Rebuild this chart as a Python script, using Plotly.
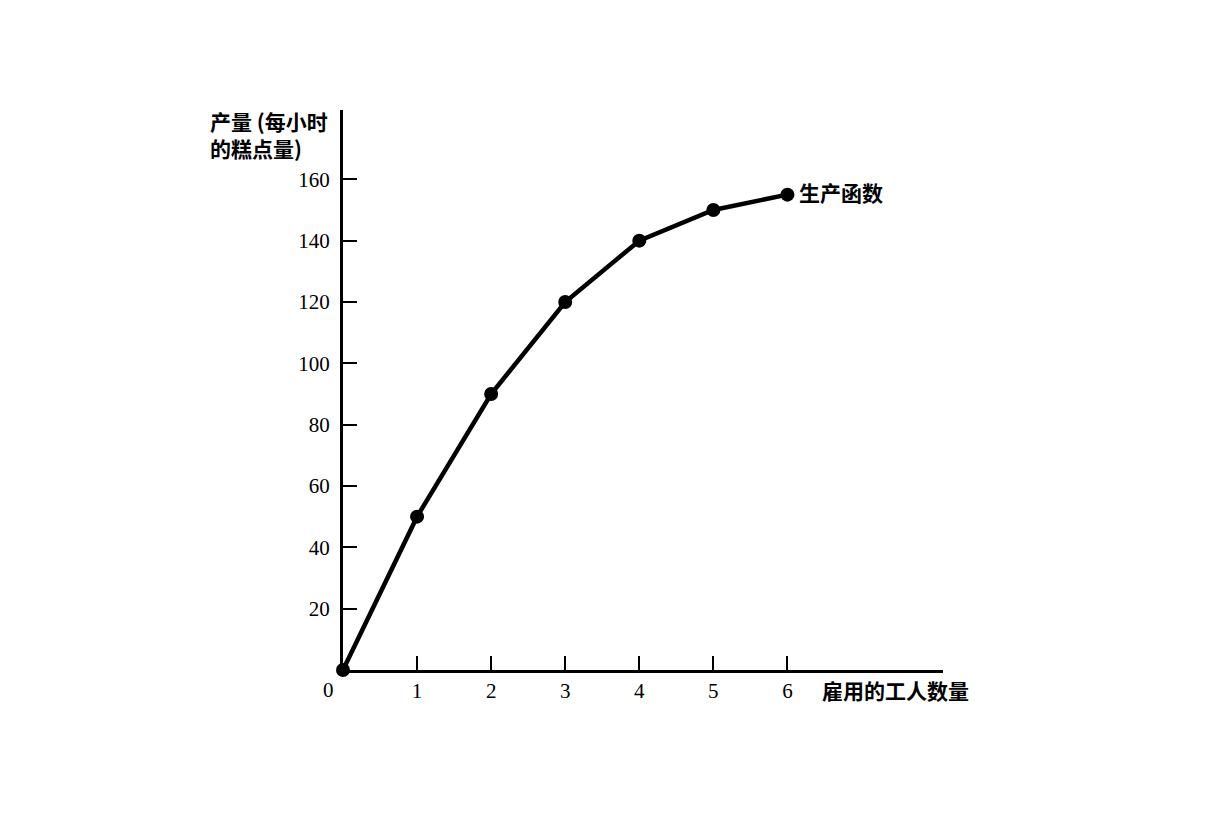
import plotly.graph_objects as go

workers = [0, 1, 2, 3, 4, 5, 6]
output = [0, 50, 90, 120, 140, 150, 155]
x_ticks = [1, 2, 3, 4, 5, 6]
y_ticks = [20, 40, 60, 80, 100, 120, 140, 160]

serif = "Liberation Serif"
cjk = "Noto Sans CJK SC"

fig = go.Figure()
fig.add_trace(go.Scatter(
    x=workers, y=output, mode="lines+markers",
    line=dict(color="black", width=4.5),
    marker=dict(color="black", size=14),
    cliponaxis=False, showlegend=False,
))

fig.update_layout(
    width=1222, height=814,
    margin=dict(l=335, r=287, t=102, b=152),
    paper_bgcolor="white", plot_bgcolor="white",
    xaxis=dict(
        range=[0, 8.1], tickvals=x_ticks, ticktext=[str(v) for v in x_ticks],
        ticks="inside", ticklen=14, tickwidth=2, tickcolor="black",
        showline=True, linecolor="black", linewidth=3,
        showgrid=False, zeroline=False,
        tickfont=dict(family=serif, size=21, color="black"),
        ticklabelstandoff=0,
    ),
    yaxis=dict(
        range=[0, 182.6], tickvals=y_ticks,
        ticks="inside", ticklen=14, tickwidth=2, tickcolor="black",
        showline=True, linecolor="black", linewidth=3,
        showgrid=False, zeroline=False,
        tickfont=dict(family=serif, size=21, color="black"),
        ticklabelstandoff=6,
    ),
    annotations=[
        dict(text="<b>产量 (每小时<br>的糕点量)</b>", xref="paper", yref="paper",
             x=(208 - 343) / 600, y=1 + (110 - 104) / 560, xanchor="left", yanchor="top",
             align="left", showarrow=False,
             font=dict(family=cjk, size=21, color="black")),
        dict(text="<b>生产函数</b>", xref="x", yref="y", x=6, y=155,
             xanchor="left", yanchor="middle", xshift=10, yshift=3, showarrow=False,
             font=dict(family=cjk, size=21, color="black")),
        dict(text="<b>雇用的工人数量</b>", xref="paper", yref="paper",
             x=(820 - 343) / 600, y=-(690 - 670) / 560, xanchor="left", yanchor="middle",
             showarrow=False, font=dict(family=cjk, size=21, color="black")),
        dict(text="0", xref="paper", yref="paper",
             x=(328 - 343) / 600, y=-(690 - 670) / 560, xanchor="center", yanchor="middle",
             showarrow=False, font=dict(family=serif, size=21, color="black")),
    ],
)

fig.write_html("out.html")
